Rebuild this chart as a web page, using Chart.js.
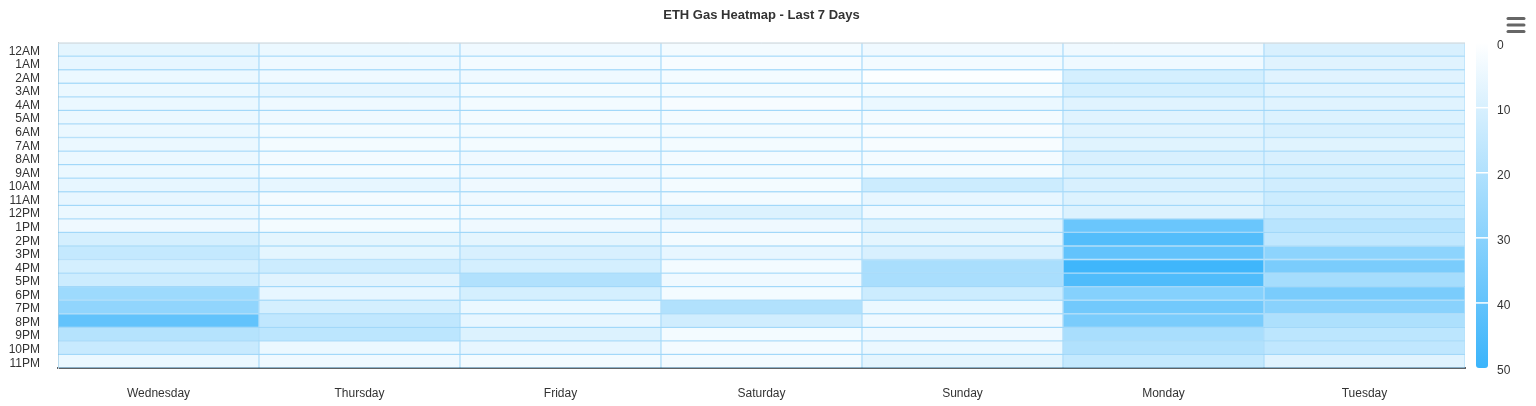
<!DOCTYPE html>
<html>
<head>
<meta charset="utf-8">
<title>ETH Gas Heatmap - Last 7 Days</title>
<script src="https://cdn.jsdelivr.net/npm/chart.js@4/dist/chart.umd.min.js"></script>
<style>
  html, body { margin: 0; padding: 0; background: #fff; }
  #wrap { width: 1536px; height: 406px; }
</style>
</head>
<body>
<div id="wrap"><canvas id="gasHeatmap"></canvas></div>
<script>
// ---- data (gwei) ----
const days = ['Wednesday', 'Thursday', 'Friday', 'Saturday', 'Sunday', 'Monday', 'Tuesday'];
const hourLabels = ['12AM', '1AM', '2AM', '3AM', '4AM', '5AM', '6AM', '7AM', '8AM', '9AM', '10AM', '11AM',
                    '12PM', '1PM', '2PM', '3PM', '4PM', '5PM', '6PM', '7PM', '8PM', '9PM', '10PM', '11PM'];

const wednesday = [7, 6, 5, 5, 5, 5, 5, 5, 5, 5, 6, 6, 5, 4, 11, 15, 11, 13, 25, 28, 40, 19, 14, 5];
const thursday  = [5, 4, 4, 6, 4, 4, 3, 3, 3, 3, 6, 3, 3, 3, 7, 7, 13, 8, 6, 11, 16, 17, 5, 4];
const friday    = [4, 3, 4, 3, 3, 3, 3, 3, 4, 4, 4, 4, 3, 4, 7, 10, 11, 20, 11, 5, 6, 9, 6, 3];
const saturday  = [3, 2, 3, 3, 2, 3, 3, 3, 3, 3, 3, 3, 9, 4, 3, 6, 3, 4, 3, 20, 12, 3, 3, 3];
const sunday    = [4, 3, 1, 3, 5, 3, 2, 2, 3, 3, 13, 6, 4, 8, 7, 10, 22, 22, 13, 5, 4, 4, 5, 7];
const monday    = [4, 4, 11, 11, 8, 8, 8, 8, 10, 9, 10, 9, 9, 38, 44, 40, 49, 45, 31, 36, 34, 22, 20, 15];
const tuesday   = [10, 8, 8, 8, 8, 9, 10, 8, 10, 11, 12, 13, 13, 18, 16, 29, 34, 23, 34, 30, 21, 17, 16, 8];

const colorMin = 0;
const colorMax = 50;
const colorTicks = [0, 10, 20, 30, 40, 50];

const dayValues = [wednesday, thursday, friday, saturday, sunday, monday, tuesday];

const lowRGB  = [255, 255, 255];
const highRGB = [59, 180, 251];
const fontFamily = '"Liberation Sans", Helvetica, Arial, sans-serif';

function gasColor(v) {
  const t = Math.max(0, Math.min(1, (v - colorMin) / (colorMax - colorMin)));
  const c = lowRGB.map((lo, i) => Math.round(lo + (highRGB[i] - lo) * t));
  return 'rgb(' + c.join(',') + ')';
}

// one floating-bar dataset per hour row, one bar per day column
const hourDatasets = hourLabels.map((label, h) => ({
  label: label,
  data: days.map(() => [h, h + 1]),
  backgroundColor: dayValues.map(vals => gasColor(vals[h])),
  borderColor: 'rgba(120,198,245,0.55)',
  borderWidth: 1,
  borderSkipped: false,
  barPercentage: 1,
  categoryPercentage: 1,
  grouped: false
}));

// colour axis on the right + plot frame + menu icon
const extrasPlugin = {
  id: 'extras',
  afterDraw(chart) {
    const ctx = chart.ctx;
    const area = chart.chartArea;
    ctx.save();

    // top frame line
    ctx.strokeStyle = '#d8d8d8';
    ctx.lineWidth = 1;
    ctx.beginPath();
    ctx.moveTo(area.left, area.top + 0.5);
    ctx.lineTo(area.right, area.top + 0.5);
    ctx.stroke();

    // colour bar
    const barX = 1476, barW = 12;
    const top = area.top, bottom = area.bottom;
    const grad = ctx.createLinearGradient(0, top, 0, bottom);
    grad.addColorStop(0, gasColor(colorMin));
    grad.addColorStop(1, gasColor(colorMax));
    ctx.fillStyle = grad;
    ctx.beginPath();
    ctx.roundRect(barX, top, barW, bottom - top, 3);
    ctx.fill();

    const yOf = v => top + (v - colorMin) / (colorMax - colorMin) * (bottom - top);
    ctx.strokeStyle = '#ffffff';
    ctx.lineWidth = 1.5;
    colorTicks.slice(1, -1).forEach(v => {
      const y = yOf(v);
      ctx.beginPath();
      ctx.moveTo(barX, y);
      ctx.lineTo(barX + barW, y);
      ctx.stroke();
    });

    ctx.fillStyle = '#333333';
    ctx.font = '12px ' + fontFamily;
    ctx.textAlign = 'left';
    ctx.textBaseline = 'middle';
    colorTicks.forEach(v => ctx.fillText(String(v), 1497, yOf(v) + 3));

    // context menu icon
    ctx.strokeStyle = '#666666';
    ctx.lineWidth = 3;
    ctx.lineCap = 'round';
    [18.5, 25, 31.5].forEach(y => {
      ctx.beginPath();
      ctx.moveTo(1508, y);
      ctx.lineTo(1524, y);
      ctx.stroke();
    });
    ctx.restore();
  }
};

new Chart(document.getElementById('gasHeatmap'), {
  type: 'bar',
  data: { labels: days, datasets: hourDatasets },
  plugins: [extrasPlugin],
  options: {
    responsive: true,
    maintainAspectRatio: false,
    animation: false,
    layout: { padding: { left: 0, right: 71, top: 0, bottom: 0 } },
    plugins: {
      legend: { display: false },
      tooltip: { enabled: false },
      title: {
        display: true,
        fullSize: false,
        text: 'ETH Gas Heatmap - Last 7 Days',
        color: '#333333',
        font: { family: fontFamily, size: 13, weight: 'bold' },
        padding: { top: 8, bottom: 19 }
      }
    },
    scales: {
      x: {
        type: 'category',
        grid: { display: false, drawTicks: false },
        border: { display: true, color: '#5f6366', width: 2 },
        ticks: {
          color: '#333333',
          font: { family: fontFamily, size: 12 },
          padding: 18,
          maxRotation: 0,
          minRotation: 0
        },
        afterFit: scale => { scale.height = 38; }
      },
      y: {
        type: 'linear',
        min: 0,
        max: hourLabels.length,
        reverse: true,
        grid: { display: false, drawTicks: false },
        border: { display: true, color: '#d0d0d0', width: 1 },
        afterBuildTicks: scale => {
          scale.ticks = hourLabels.map((_, i) => ({ value: i + 0.5 }));
        },
        ticks: {
          autoSkip: false,
          color: '#333333',
          font: { family: fontFamily, size: 12, lineHeight: 1 },
          padding: 18,
          labelOffset: 2,
          callback: v => hourLabels[Math.floor(v)]
        },
        afterFit: scale => { scale.width = 58; }
      }
    }
  }
});
</script>
</body>
</html>
